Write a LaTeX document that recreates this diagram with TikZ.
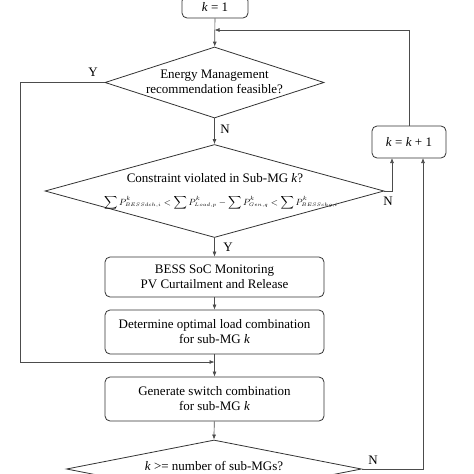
\documentclass[tikz,border=0pt]{standalone}
\usepackage{amsmath,amssymb}
\usepackage{fontspec}
\setmainfont{Liberation Serif}
\usetikzlibrary{shapes.geometric, arrows.meta}

\begin{document}
\begin{tikzpicture}[x=1pt,y=-1pt,
        every node/.style={font=\fontsize{13}{15}\selectfont},
        stepbox/.style={draw=black!80,line width=0.8pt,rounded corners=5pt,align=center,inner sep=0pt},
        decision/.style={draw=black!80,line width=0.8pt,diamond,inner sep=0pt},
        flow/.style={draw=black!70,line width=0.7pt,-{Latex[length=5pt,width=4pt]}},
        yn/.style={inner sep=1pt}]
                \useasboundingbox (0,0) rectangle (474,474);
                \clip (0,0) rectangle (474,474);
                \node[stepbox,minimum width=66,minimum height=22] (init) at (215,7) {\textit{k} = 1};
                \node[decision,minimum width=219,minimum height=71] (feasible) at (214.5,82.5) {};
                \node[align=center] (feasibletxt) at (214.5,82) {Energy Management\\recommendation feasible?};
                \node[decision,minimum width=339,minimum height=93] (violated) at (214.5,191) {};
                \node (violatedtxt) at (215,178) {Constraint violated in Sub-MG \textit{k}?};
                \node[inner sep=0pt] (ineq) at (221,203) {\fontsize{9}{11}\selectfont$\displaystyle\sum P^{k}_{\scriptscriptstyle BESSdch,i}<\sum P^{k}_{\scriptscriptstyle Load,p}-\sum P^{k}_{\scriptscriptstyle Gen,q}<\sum P^{k}_{\scriptscriptstyle BESSchg,i}$};
                \node[stepbox,minimum width=219,minimum height=40] (bess) at (214.5,277) {BESS SoC Monitoring\\PV Curtailment and Release};
                \node[stepbox,minimum width=219,minimum height=44] (loadcomb) at (214.5,332) {Determine optimal load combination\\for sub-MG \textit{k}};
                \node[stepbox,minimum width=219,minimum height=44] (switchcomb) at (214.5,399) {Generate switch combination\\for sub-MG \textit{k}};
                \node[decision,minimum width=295,minimum height=58] (last) at (214,469) {};
                \node (lasttxt) at (214,466) {\textit{k} >= number of sub-MGs?};
                \node[stepbox,minimum width=74,minimum height=32] (incr) at (409,142) {\textit{k} = \textit{k} + 1};
                \coordinate (loopin) at (214.5,30);
                \coordinate (ycorner) at (20,82.5);
                \coordinate (merge) at (214.5,362);
                \coordinate (ninA) at (392,158);
                \coordinate (ninB) at (423,158);
                \draw[flow] (init) -- (feasible);
                \draw[flow] (incr.north) |- (loopin);
                \draw[flow] (feasible.west) -- (ycorner) |- (merge);
                \node[yn] (y1) at (93,72) {Y};
                \draw[flow] (feasible.south) -- (violated.north);
                \node[yn] (n1) at (225,129) {N};
                \draw[flow] (violated.east) -| (ninA);
                \node[yn] (n2) at (388,201) {N};
                \draw[flow] (violated.south) -- (bess.north);
                \node[yn] (y2) at (228,247) {Y};
                \draw[flow] (bess) -- (loadcomb);
                \draw[flow] (loadcomb) -- (switchcomb);
                \draw[flow] (switchcomb) -- (last.north);
                \draw[flow] (last.east) -| (ninB);
                \node[yn] (n3) at (373,460) {N};
            \end{tikzpicture}
\end{document}
